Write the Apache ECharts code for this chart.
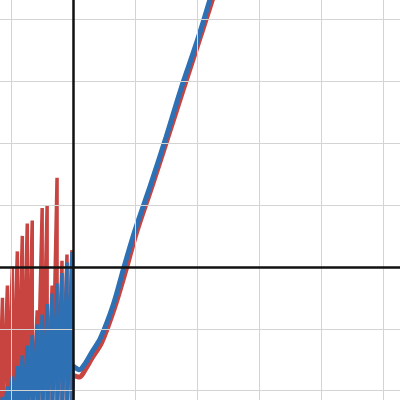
<!DOCTYPE html><html><head><script src="https://cdn.jsdelivr.net/npm/echarts@6/dist/echarts.min.js"></script></head><body style="margin:0"><div id="c" style="width:400px;height:400px"></div><script>
const spikeX=[-1.14,-1.06,-0.98,-0.9,-0.82,-0.74,-0.66,-0.58,-0.5,-0.42,-0.34,-0.26,-0.18,-0.1,-0.02];
const redTop=[-0.5,-0.3,0.0,0.25,0.5,0.7,0.75,-0.7,0.95,1.0,-0.3,1.44,0.1,0.2,0.27];
const blueTop=[-2.1,-1.93,-1.77,-1.6,-1.43,-1.27,-1.1,-0.93,-0.77,-0.6,-0.43,-0.27,-0.1,0.07,0.24];
const blueCurve=[[0,-1.6],[0.1,-1.66],[0.2,-1.55],[0.3,-1.38],[0.44,-1.15],[0.65,-0.6],[0.82,0],[1.0,0.6],[1.24,1.3],[1.5,2.1],[1.73,2.85],[2.0,3.65],[2.2,4.3],[2.4,5]];
const redCurve=[[0,-1.75],[0.1,-1.78],[0.2,-1.65],[0.3,-1.48],[0.46,-1.22],[0.67,-0.65],[0.85,-0.05],[1.02,0.55],[1.27,1.3],[1.53,2.1],[1.77,2.85],[2.03,3.65],[2.24,4.3],[2.44,5]];
const gridX=[-1,1,2,3,4,5], gridY=[-2,-1,1,2,3,4];
function spikes(top,end){const d=[];spikeX.forEach((x,i)=>{d.push([x-0.06,-2.5]);d.push([x,top[i]]);d.push([x,-2.5]);});d.push([-0.03,-2.5]);d.push([0,end]);return d;}
const ch=echarts.init(document.getElementById('c'));
const ax={type:'value',axisLabel:{show:false},axisTick:{show:false},axisLine:{show:false},splitLine:{show:false}};
const L=(d,c,w,s)=>({type:'line',data:d,showSymbol:false,animation:false,smooth:s,lineStyle:{color:c,width:w},z:3});
const ml=(arr,key,col,w)=>arr.map(v=>({[key]:v,lineStyle:{color:col,width:w}}));
ch.setOption({grid:{left:0,right:0,top:0,bottom:0},
xAxis:Object.assign({},ax,{min:-1.18,max:5.27}),yAxis:Object.assign({},ax,{min:-2.15,max:4.31}),
series:[
{type:'line',data:[],z:1,markLine:{silent:true,animation:false,symbol:'none',label:{show:false},lineStyle:{type:'solid'},data:ml(gridX,'xAxis','#d4d4d4',1).concat(ml(gridY,'yAxis','#d4d4d4',1))}},
{type:'line',data:[],z:2,markLine:{silent:true,animation:false,symbol:'none',label:{show:false},lineStyle:{type:'solid'},data:ml([0],'xAxis','#111',2.5).concat(ml([0],'yAxis','#111',2.5))}},
L(spikes(redTop,-1.75),'#c74440',3.5,false),
L(redCurve,'#c74440',5,0.3),
L(spikes(blueTop,-1.6),'#2d70b3',3.5,false),
L(blueCurve,'#2d70b3',5,0.3)]});
</script></body></html>
